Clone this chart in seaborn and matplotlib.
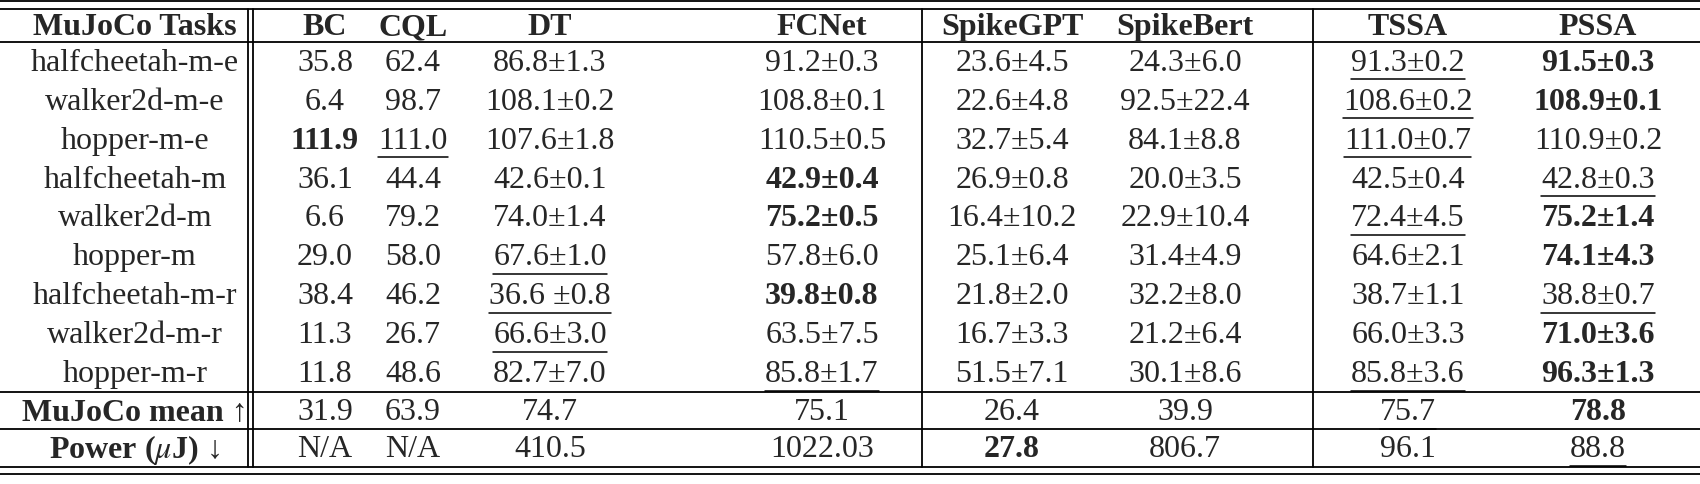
import matplotlib
matplotlib.use('Agg')
import matplotlib.pyplot as plt
import seaborn as sns

# table content (strings as printed), bold / underline markers per cell
tasks = ['halfcheetah-m-e', 'walker2d-m-e', 'hopper-m-e', 'halfcheetah-m', 'walker2d-m',
         'hopper-m', 'halfcheetah-m-r', 'walker2d-m-r', 'hopper-m-r',
         'MuJoCo mean \u2191', 'Power ($\\mu$J) \u2193']
methods = ['BC', 'CQL', 'DT', 'FCNet', 'SpikeGPT', 'SpikeBert', 'TSSA', 'PSSA']
bc = ['35.8', '6.4', '111.9', '36.1', '6.6', '29.0', '38.4', '11.3', '11.8', '31.9', 'N/A']
cql = ['62.4', '98.7', '111.0', '44.4', '79.2', '58.0', '46.2', '26.7', '48.6', '63.9', 'N/A']
dt = ['86.8±1.3', '108.1±0.2', '107.6±1.8', '42.6±0.1', '74.0±1.4', '67.6±1.0', '36.6 ±0.8',
      '66.6±3.0', '82.7±7.0', '74.7', '410.5']
fcnet = ['91.2±0.3', '108.8±0.1', '110.5±0.5', '42.9±0.4', '75.2±0.5', '57.8±6.0', '39.8±0.8',
         '63.5±7.5', '85.8±1.7', '75.1', '1022.03']
spikegpt = ['23.6±4.5', '22.6±4.8', '32.7±5.4', '26.9±0.8', '16.4±10.2', '25.1±6.4', '21.8±2.0',
            '16.7±3.3', '51.5±7.1', '26.4', '27.8']
spikebert = ['24.3±6.0', '92.5±22.4', '84.1±8.8', '20.0±3.5', '22.9±10.4', '31.4±4.9', '32.2±8.0',
             '21.2±6.4', '30.1±8.6', '39.9', '806.7']
tssa = ['91.3±0.2', '108.6±0.2', '111.0±0.7', '42.5±0.4', '72.4±4.5', '64.6±2.1', '38.7±1.1',
        '66.0±3.3', '85.8±3.6', '75.7', '96.1']
pssa = ['91.5±0.3', '108.9±0.1', '110.9±0.2', '42.8±0.3', '75.2±1.4', '74.1±4.3', '38.8±0.7',
        '71.0±3.6', '96.3±1.3', '78.8', '88.8']
columns = [bc, cql, dt, fcnet, spikegpt, spikebert, tssa, pssa]
# (row, col) -> 'b' bold, 'u' underline
marks = {(2, 0): 'b', (2, 1): 'u',
         (0, 6): 'u', (1, 6): 'u', (2, 6): 'u', (4, 6): 'u', (8, 6): 'u', (9, 6): 'u',
         (0, 7): 'b', (1, 7): 'b', (3, 7): 'u', (4, 7): 'b', (5, 7): 'b', (6, 7): 'u',
         (7, 7): 'b', (8, 7): 'b', (9, 7): 'b', (10, 7): 'u',
         (3, 3): 'b', (4, 3): 'b', (6, 3): 'b', (8, 3): 'u',
         (5, 2): 'u', (6, 2): 'u', (7, 2): 'u', (10, 4): 'b'}

sns.set_theme(style='white')
plt.rcParams['font.family'] = ['Liberation Serif', 'DejaVu Serif']
plt.rcParams['mathtext.fontset'] = 'stix'

W, H = 1700, 485
fig = plt.figure(figsize=(W / 100, H / 100), dpi=100)
ax = fig.add_axes([0, 0, 1, 1])
ax.set_xlim(0, W)
ax.set_ylim(H, 0)
ax.axis('off')

col_x = [135, 325, 413, 550, 822, 1012, 1185, 1408, 1598]
y_head_top, y_head_bot = 10, 43
y_data_end, y_mean_end, y_pow_end = 393, 430, 468
row_h = (y_data_end - y_head_bot) / 9
row_y = [y_head_bot + (i + 0.5) * row_h for i in range(9)]
row_y += [(y_data_end + y_mean_end) / 2, (y_mean_end + y_pow_end) / 2]

fs = 23
lw = 1.3
# horizontal rules
for y in [2, 10, y_head_bot, y_data_end, y_mean_end, y_pow_end, y_pow_end + 7]:
    ax.plot([0, W], [y, y], color='black', lw=lw)
# vertical rules
for x in [248, 253, 922, 1313]:
    ax.plot([x, x], [y_head_top, y_pow_end], color='black', lw=lw)

ax.text(col_x[0], (y_head_top + y_head_bot) / 2 + 1, 'MuJoCo Tasks', ha='center', va='center',
        fontsize=fs, fontweight='bold')
for j, m in enumerate(methods):
    ax.text(col_x[j + 1], (y_head_top + y_head_bot) / 2 + 1, m, ha='center', va='center',
            fontsize=fs, fontweight='bold')

for i, t in enumerate(tasks):
    ax.text(col_x[0], row_y[i] + 1, t, ha='center', va='center', fontsize=fs,
            fontweight='bold' if i >= 9 else 'normal')

underlined = []
for j, col in enumerate(columns):
    for i, val in enumerate(col):
        mk = marks.get((i, j), '')
        txt = ax.text(col_x[j + 1], row_y[i] + 1, val, ha='center', va='center', fontsize=fs,
                      fontweight='bold' if mk == 'b' else 'normal')
        if mk == 'u':
            underlined.append((txt, row_y[i]))

fig.canvas.draw()
renderer = fig.canvas.get_renderer()
inv = ax.transData.inverted()
for txt, y in underlined:
    bb = txt.get_window_extent(renderer)
    (x0, _), (x1, _) = inv.transform([[bb.x0, bb.y0], [bb.x1, bb.y1]])
    ax.plot([x0, x1], [y + 18, y + 18], color='black', lw=1.1)

fig.savefig('out.png', dpi=100)
